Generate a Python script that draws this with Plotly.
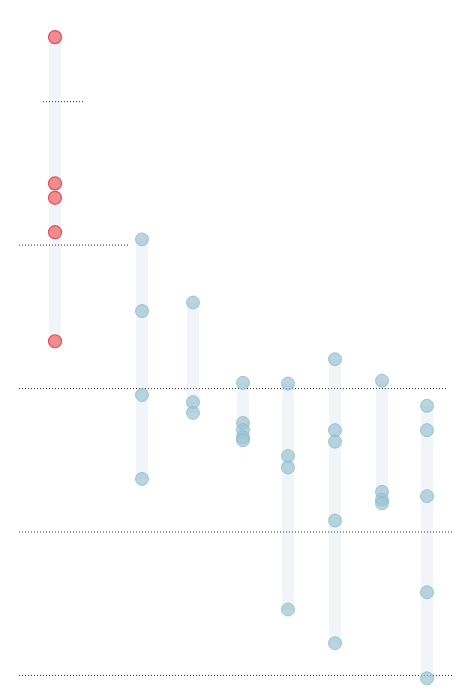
import plotly.graph_objects as go

# column positions (horizontal) and the values in each column
col_x = [55, 142, 193, 243, 288, 335, 382, 427]
col_values = [
    [44.5, 34.3, 33.3, 30.9, 23.3],
    [30.4, 25.4, 19.55, 13.7],
    [26.0, 19.05, 18.3],
    [20.4, 17.6, 17.1, 16.6, 16.4],
    [20.35, 15.3, 14.5, 4.6],
    [22.05, 17.1, 16.3, 10.8, 2.25],
    [20.55, 12.8, 12.25, 12.0],
    [18.8, 17.1, 12.5, 5.8, -0.2],
]
highlight = [True, False, False, False, False, False, False, False]

# reference lines: value, x start, x end
ref_values = [40, 30, 20, 10, 0]
ref_x0 = [43, 19, 19, 19, 19]
ref_x1 = [83, 128, 447, 453, 453]

fig = go.Figure()

# light range bars
for x, vals in zip(col_x, col_values):
    fig.add_trace(go.Scatter(
        x=[x, x], y=[min(vals), max(vals)],
        mode='lines',
        line=dict(color='#f1f5f9', width=12),
        hoverinfo='skip', showlegend=False,
    ))

# dotted reference lines
for v, x0, x1 in zip(ref_values, ref_x0, ref_x1):
    fig.add_trace(go.Scatter(
        x=[x0, x1], y=[v, v],
        mode='lines',
        line=dict(color='#333333', width=1, dash='1px,2px'),
        hoverinfo='skip', showlegend=False,
    ))

# points
for x, vals, hl in zip(col_x, col_values, highlight):
    if hl:
        marker = dict(size=13, color='rgba(240,120,125,0.85)',
                      line=dict(width=1.2, color='#e0505a'))
    else:
        marker = dict(size=13, color='rgba(155,195,212,0.7)',
                      line=dict(width=1, color='rgba(135,180,198,0.7)'))
    fig.add_trace(go.Scatter(
        x=[x] * len(vals), y=vals,
        mode='markers', marker=marker,
        showlegend=False,
    ))

fig.update_layout(
    width=474, height=693,
    margin=dict(l=0, r=0, t=0, b=0),
    paper_bgcolor='white', plot_bgcolor='white',
    xaxis=dict(range=[8, 482], visible=False, fixedrange=True),
    yaxis=dict(range=[-1.78, 46.53], visible=False, fixedrange=True),
)

fig.write_html("out.html")
